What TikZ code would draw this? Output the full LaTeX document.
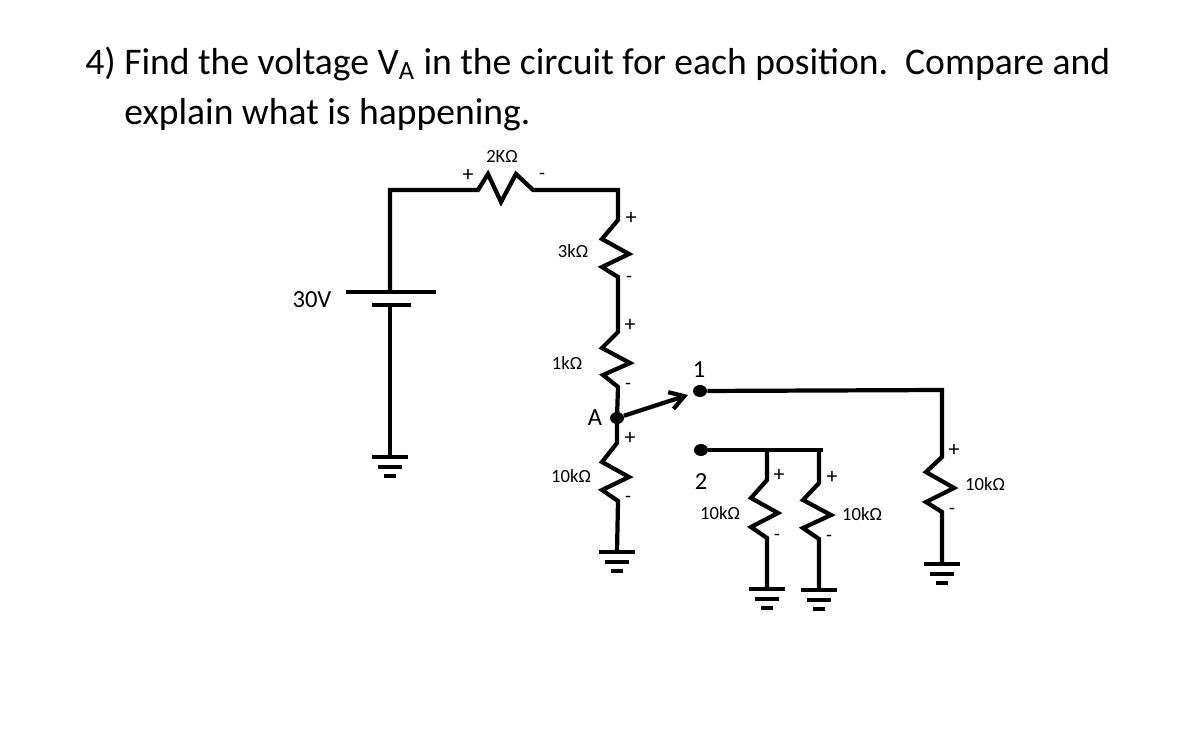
\documentclass[tikz,border=0pt]{standalone}
\usepackage{fontspec}
\setmainfont{Carlito}
\tikzset{
    wire/.style={line width=2.4pt, line join=miter},
    term/.style={shape=ellipse, fill=black, inner sep=0pt, minimum width=14*0.02cm, minimum height=12*0.02cm},
    val/.style={font=\fontsize{10.6}{12}\selectfont, inner sep=0pt},
    pol/.style={font=\fontsize{12.5}{14}\selectfont, inner sep=0pt},
    neg/.style={font=\fontsize{11}{12}\selectfont, inner sep=0pt},
    nolabel/.style={font=\fontsize{14}{14}\selectfont, inner sep=0pt},
    title/.style={font=\fontsize{21.4}{24}\selectfont, inner sep=0pt, anchor=base west},
    gnd/.pic={
        \draw[line width=2.4pt] (-18,0) -- (18,0);
        \draw[line width=2.4pt] (-12,10) -- (12,10);
        \draw[line width=2.4pt] (-6,19) -- (6,19);
    },
}
\usetikzlibrary{shapes.geometric,arrows.meta}

\begin{document}
\begin{tikzpicture}[x=0.02cm,y=-0.02cm]
    \useasboundingbox (0,0) rectangle (1181,730);

    \node[title](txt1) at (85,74) {4) Find the voltage V\textsubscript{A} in the circuit for each position.\ \ Compare and};
    \node[title](txt2) at (124,124) {explain what is happening.};

    \coordinate (tl) at (390,190);
    \coordinate (tr) at (618,190);
    \coordinate (batp) at (390,292);
    \coordinate (batn) at (390,305);
    \coordinate (gbat) at (390,457);
    \coordinate (g1) at (617,552);
    \coordinate (j2a) at (767,450);
    \coordinate (j2b) at (819,450);
    \coordinate (g2a) at (767,589);
    \coordinate (g2b) at (819,590);
    \coordinate (tr3) at (942,390);
    \coordinate (g3) at (942,564);
    \node[term](nodeA) at (617,418) {};
    \node[term](pos1) at (700,391) {};
    \node[term](pos2) at (701,450) {};

    \draw[wire] (batp) -- (tl) -- (478,190) -- (488,174) -- (501,202) -- (516,174) -- (533,190) -- (tr) -- (618,220)
        -- (602,239) -- (629,254) -- (602,267) -- (618,277) -- (618,332)
        -- (602,348) -- (630,363) -- (603,375) -- (618,387) -- (nodeA.center);  % 2K 3k 1k
    \draw[wire] (nodeA.center) -- (617,443) -- (602,462) -- (629,477) -- (602,490) -- (618,501) -- (g1);  % 10k
    \draw[wire] (346,292) -- (436,292);  % battery
    \draw[wire] (372,305) -- (411,305);
    \draw[wire] (batn) -- (gbat);
    \draw[wire,-{Straight Barb[length=8pt,width=10pt]}] (nodeA) -- (688,395);  % switch
    \draw[wire] (pos1) -- (tr3) -- (942,457) -- (926,472) -- (954,488) -- (926,502) -- (942,512) -- (g3);
    \draw[wire] (pos2) -- (823,450);
    \draw[wire] (j2a) -- (767,480) -- (751,498) -- (778,513) -- (751,527) -- (767,538) -- (g2a);
    \draw[wire] (j2b) -- (819,483) -- (803,500) -- (831,515) -- (803,528) -- (819,539) -- (g2b);

    \pic at (gbat) {gnd};
    \pic at (g1) {gnd};
    \pic at (g2a) {gnd};
    \pic at (g2b) {gnd};
    \pic at (g3) {gnd};

    \node[nolabel](l30) at (312,300) {30V};
    \node[val](l2k) at (502,156) {2KΩ};
    \node[val](l3k) at (573,251) {3kΩ};
    \node[val](l1k) at (567,363) {1kΩ};
    \node[val](l10a) at (571,476) {10kΩ};
    \node[val](l10b) at (720,513) {10kΩ};
    \node[val](l10c) at (862,514) {10kΩ};
    \node[val](l10d) at (985,484) {10kΩ};
    \node[nolabel](lA) at (595,418) {A};
    \node[nolabel](l1) at (699,370) {1};
    \node[nolabel](l2) at (701,482) {2};

    \node[pol](p1) at (468,175) {+};
    \node[neg](m1) at (542,176) {-};
    \node[pol](p2) at (631,218) {+};
    \node[neg](m2) at (629,279) {-};
    \node[pol](p3) at (630,325) {+};
    \node[neg](m3) at (628,386) {-};
    \node[pol](p4) at (630,438) {+};
    \node[neg](m4) at (628,499) {-};
    \node[pol](p5) at (779,475) {+};
    \node[neg](m5) at (777,537) {-};
    \node[pol](p6) at (832,477) {+};
    \node[neg](m6) at (829,538) {-};
    \node[pol](p7) at (954,450) {+};
    \node[neg](m7) at (952,511) {-};
\end{tikzpicture}
\end{document}
